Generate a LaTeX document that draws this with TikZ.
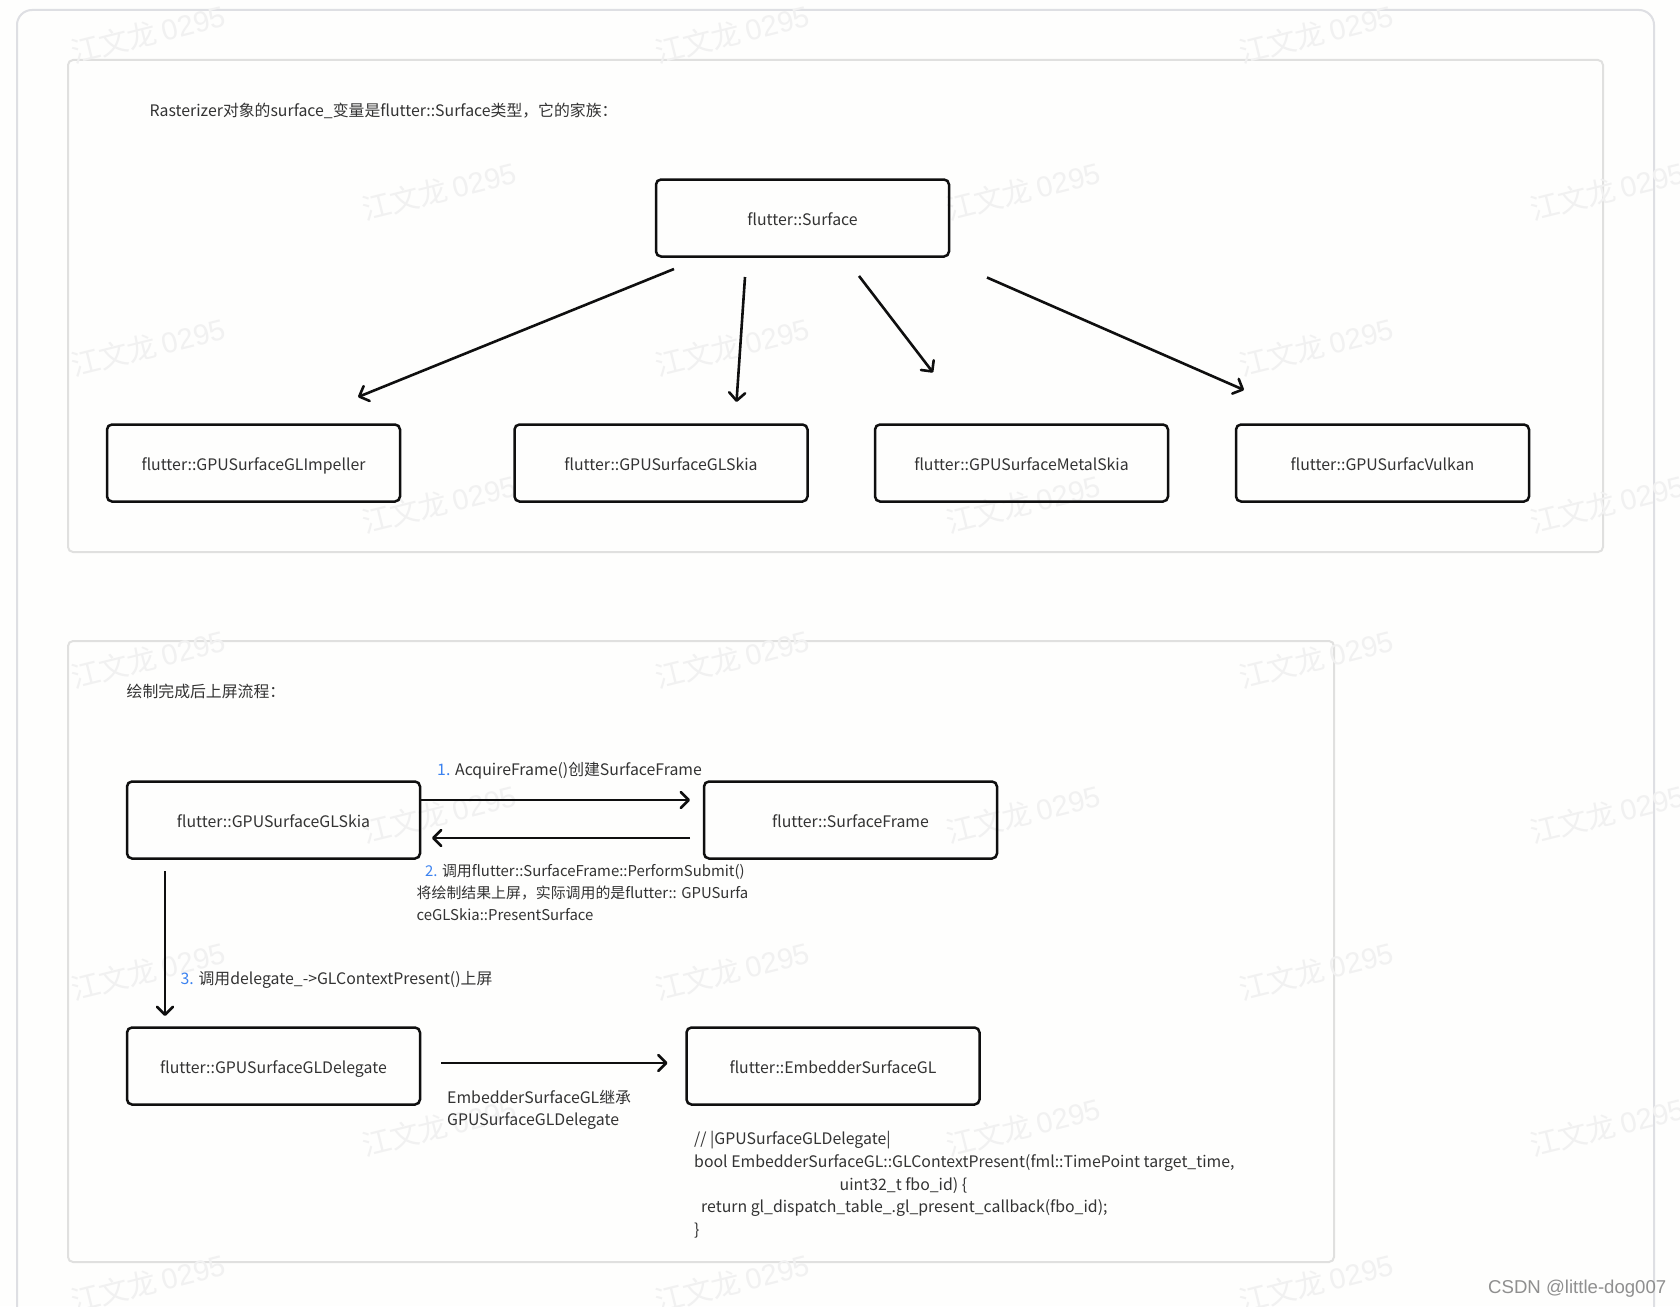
\documentclass[tikz,border=0pt]{standalone}
\usepackage{fontspec}
\usetikzlibrary{arrows.meta}
\setmainfont{Noto Sans CJK SC}
\newfontfamily\csdnfont{Liberation Sans}
\definecolor{pagebg}{HTML}{FEFEFD}
\definecolor{panelline}{HTML}{E0E0DF}
\definecolor{outerline}{HTML}{DEDFE3}
\definecolor{wmark}{HTML}{F1F1F1}
\definecolor{inktext}{HTML}{333333}
\definecolor{boxline}{HTML}{0F0F0F}
\definecolor{numblue}{HTML}{3B82F0}
\definecolor{csdngrey}{HTML}{8F8F8F}
\tikzset{
  x=1pt,y=-1pt,
  panel/.style={draw=panelline,line width=2pt,rounded corners=5pt},
  outerpanel/.style={draw=outerline,line width=2pt,rounded corners=15pt},
  classbox/.style={draw=boxline,line width=2.5pt,rounded corners=5pt,inner sep=0pt,text=inktext,
    font=\fontsize{15.85}{20}\selectfont,text height=15pt,text depth=1pt,minimum width=293pt,minimum height=77pt},
  lbl/.style={anchor=west,inner sep=0pt,yshift=-1.5pt,text=inktext,font=\fontsize{15.85}{20}\selectfont,text height=13pt,text depth=4pt},
  lblsmall/.style={lbl,font=\fontsize{14.9}{20}\selectfont},
  wm/.style={text=wmark,rotate=14,inner sep=0pt,font=\fontsize{29}{33}\selectfont},
  conn/.style={draw=boxline,line width=2.6pt,-{Straight Barb[length=8pt,width=16pt,line width=2.6pt,round]}},
}
\newcommand{\numb}[1]{\textcolor{numblue}{#1}}
\newcommand{\wmtext}{江文龙 {\csdnfont 0295}}
\begin{document}
\begin{tikzpicture}
\useasboundingbox (0,0) rectangle (1680,1306);
\clip (0,0) rectangle (1680,1306);
\fill[pagebg] (0,0) rectangle (1680,1306);
% panels
\draw[outerpanel] (17,1340) -- (17,10) -- (1654,10) -- (1654,1340);
\draw[panel] (68,60) rectangle (1603,552);
\draw[panel] (68,641) rectangle (1334,1262);
% watermarks
\foreach \yy/\nn in {34/a,347/c,659/e,971/g,1283/i}{
  \foreach \xx/\mm in {148/1,732/2,1316/3}{
    \node[wm] (wm\nn\mm) at (\xx,\yy) {\wmtext};
  }
}
\foreach \yy/\nn in {191/b,504/d,814/f,1127/h}{
  \foreach \xx/\mm in {439/1,1023/2,1607/3}{
    \node[wm] (wm\nn\mm) at (\xx,\yy) {\wmtext};
  }
}
% upper family
\node[classbox] (surface) at (802.5,218) {flutter::Surface};
\node[classbox] (impeller) at (253.5,463) {flutter::GPUSurfaceGLImpeller};
\node[classbox] (glskia) at (661,463) {flutter::GPUSurfaceGLSkia};
\node[classbox] (metal) at (1021.5,463) {flutter::GPUSurfaceMetalSkia};
\node[classbox] (vulkan) at (1382.5,463) {flutter::GPUSurfacVulkan};
\node[lbl] (title1) at (149.5,110.5) {Rasterizer对象的surface\_变量是flutter::Surface类型，它的家族：};
\coordinate (as) at (674,269); \coordinate (ae) at (358,397);
\coordinate (bs) at (745,277); \coordinate (be) at (736.5,402);
\coordinate (cs) at (859,276); \coordinate (ce) at (933,372.5);
\coordinate (ds) at (987,277.5); \coordinate (de) at (1244,390);
\draw[conn] (as) -- (ae);
\draw[conn] (bs) -- (be);
\draw[conn] (cs) -- (ce);
\draw[conn] (ds) -- (de);
% lower flow
\node[classbox] (skia2) at (273.5,820) {flutter::GPUSurfaceGLSkia};
\node[classbox] (frame) at (850.5,820) {flutter::SurfaceFrame};
\node[classbox] (delegate) at (273.5,1066) {flutter::GPUSurfaceGLDelegate};
\node[classbox] (embedder) at (833,1066) {flutter::EmbedderSurfaceGL};
\node[lbl] (title2) at (126.5,691) {绘制完成后上屏流程：};
\coordinate (e1s) at (420.5,800); \coordinate (e1e) at (690,800);
\coordinate (e2s) at (690,838); \coordinate (e2e) at (432,838);
\coordinate (e3s) at (165,871); \coordinate (e3e) at (165,1016);
\coordinate (e4s) at (441,1063); \coordinate (e4e) at (667.5,1063);
\draw[conn] (e1s) -- (e1e);
\draw[conn] (e2s) -- (e2e);
\draw[conn] (e3s) -- (e3e);
\draw[conn] (e4s) -- (e4e);
\node[lbl] (l1) at (437,769.5) {\numb{1.} AcquireFrame()创建SurfaceFrame};
\node[lblsmall] (l2a) at (425,870.5) {\numb{2.} 调用flutter::SurfaceFrame::PerformSubmit()};
\node[lblsmall] (l2b) at (416.5,892.5) {将绘制结果上屏，实际调用的是flutter:: GPUSurfa};
\node[lblsmall] (l2c) at (416.5,914) {ceGLSkia::PresentSurface};
\node[lbl] (l3) at (180.5,978) {\numb{3.} 调用delegate\_->GLContextPresent()上屏};
\node[lbl] (l4a) at (447,1097) {EmbedderSurfaceGL继承};
\node[lbl] (l4b) at (447,1119) {GPUSurfaceGLDelegate};
\node[lbl] (c1) at (694,1138.5) {// |GPUSurfaceGLDelegate|};
\node[lbl] (c2) at (694,1161) {bool EmbedderSurfaceGL::GLContextPresent(fml::TimePoint target\_time,};
\node[lbl] (c3) at (839.5,1184) {uint32\_t fbo\_id) \{};
\node[lbl] (c4) at (701,1206.5) {return gl\_dispatch\_table\_.gl\_present\_callback(fbo\_id);};
\node[lbl] (c5) at (694,1229) {\}};
\node[anchor=west,inner sep=0pt,text=csdngrey,font=\csdnfont\fontsize{18.6}{20}\selectfont] (csdn) at (1488,1288.5) {CSDN @little-dog007};
\end{tikzpicture}
\end{document}
